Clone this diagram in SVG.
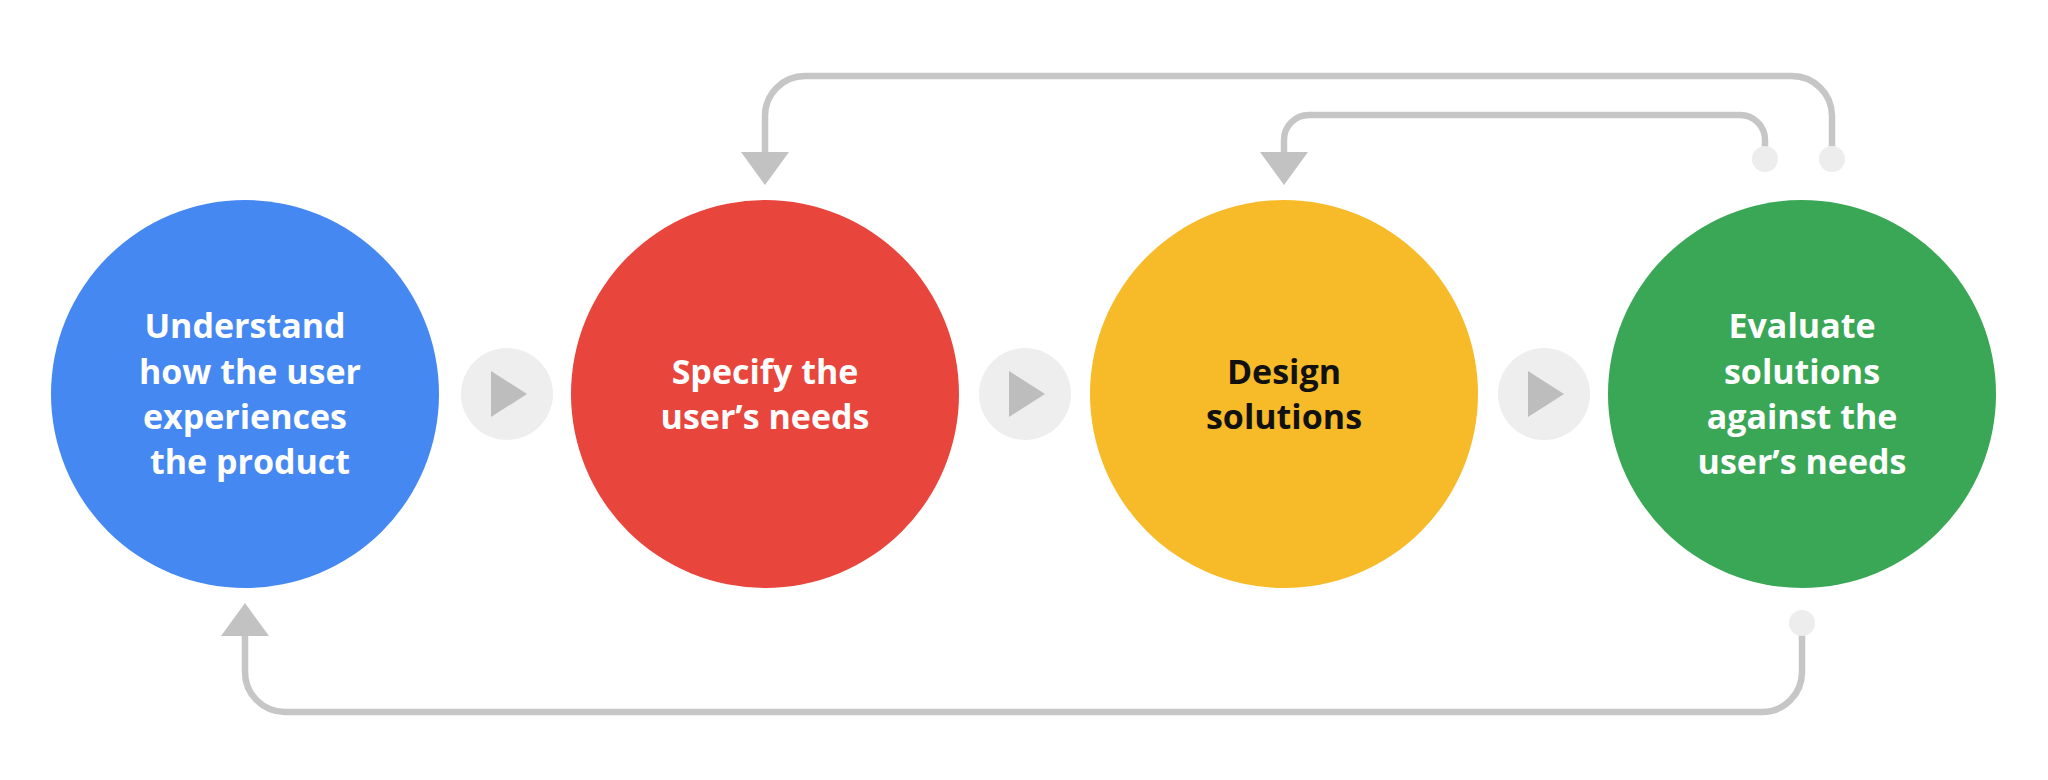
<svg xmlns="http://www.w3.org/2000/svg" width="2048" height="780" viewBox="0 0 2048 780">
<style>
.t{font-family:"Open Sans","Liberation Sans",sans-serif;font-weight:700;font-size:34px;text-anchor:middle;fill:#fff}
.c{fill:none;stroke:#c6c6c6;stroke-width:6.5}
.dot{fill:#ededed}
.ah{fill:#c2c2c2}
.pb{fill:#eeeeee}
.pt{fill:#bdbdbd}
</style>
<rect width="2048" height="780" fill="#fff"/>
<g id="connectors">
<path class="c" d="M1832 150 V116 a40 40 0 0 0 -40 -40 H805 a40 40 0 0 0 -40 40 V155"/>
<path class="c" d="M1765 150 V140 a25 25 0 0 0 -25 -25 H1309 a25 25 0 0 0 -25 25 V155"/>
<path class="c" d="M1802 630 V672 a40 40 0 0 1 -40 40 H285 a40 40 0 0 1 -40 -40 V632"/>
<circle class="dot" cx="1832" cy="159" r="13"/>
<circle class="dot" cx="1765" cy="159" r="13"/>
<circle class="dot" cx="1802" cy="623" r="13"/>
<polygon class="ah" points="741,152 789,152 765,185"/>
<polygon class="ah" points="1260,152 1308,152 1284,185"/>
<polygon class="ah" points="221,636 269,636 245,603"/>
<g><circle class="pb" cx="507" cy="394" r="46"/><polygon class="pt" points="491,371 491,417 527,394"/></g>
<g><circle class="pb" cx="1025" cy="394" r="46"/><polygon class="pt" points="1009,371 1009,417 1045,394"/></g>
<g><circle class="pb" cx="1544" cy="394" r="46"/><polygon class="pt" points="1528,371 1528,417 1564,394"/></g>
</g>
<g id="n1"><circle cx="245" cy="394" r="194" fill="#4688F1"/>
<text class="t" x="245" y="338">Understand</text><text class="t" x="250" y="384">how the user</text><text class="t" x="245" y="429">experiences</text><text class="t" x="250" y="474">the product</text></g>
<g id="n2"><circle cx="765" cy="394" r="194" fill="#E8453C"/>
<text class="t" x="765" y="384">Specify the</text><text class="t" x="765" y="429">user’s needs</text></g>
<g id="n3"><circle cx="1284" cy="394" r="194" fill="#F7BB2A"/>
<text class="t" x="1284" y="384" style="fill:#111">Design</text><text class="t" x="1284" y="429" style="fill:#111">solutions</text></g>
<g id="n4"><circle cx="1802" cy="394" r="194" fill="#3AA757"/>
<text class="t" x="1802" y="338">Evaluate</text><text class="t" x="1802" y="384">solutions</text><text class="t" x="1802" y="429">against the</text><text class="t" x="1802" y="474">user’s needs</text></g>
</svg>
